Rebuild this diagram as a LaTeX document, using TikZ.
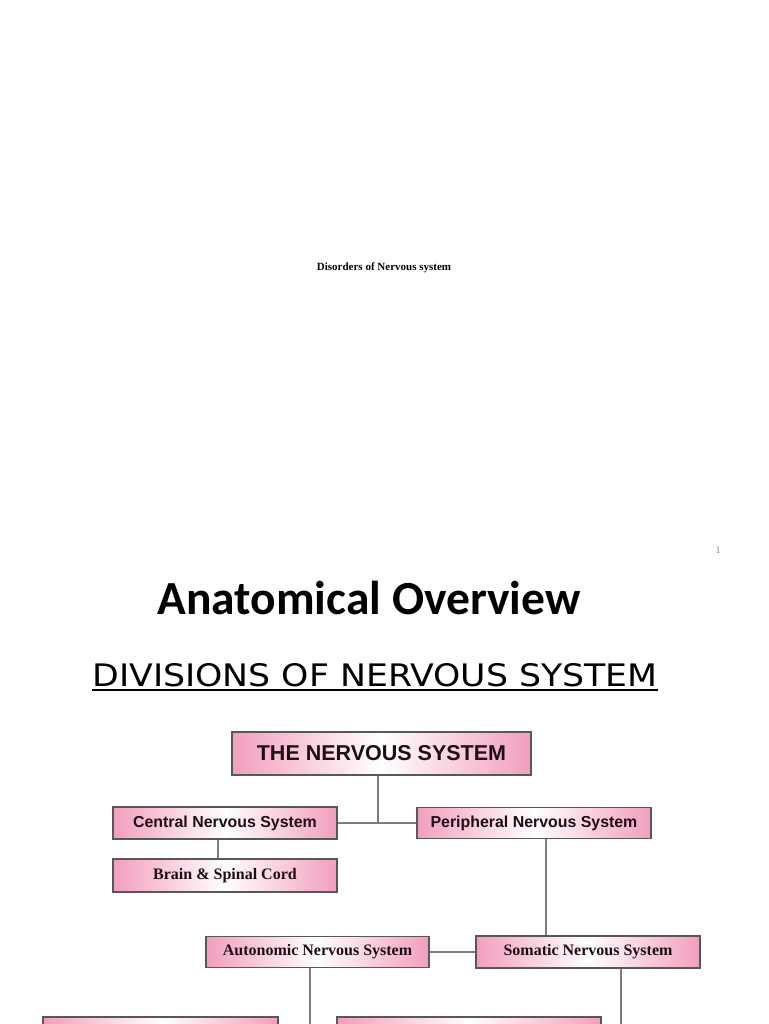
\documentclass[tikz,border=0pt]{standalone}
\usepackage{fontspec}
\setmainfont{Liberation Serif}
\newfontfamily\arialfont{Liberation Sans}
\newfontfamily\calibrifont{Carlito}
\newfontfamily\comicfont{DejaVu Sans}
\definecolor{boxpink}{RGB}{242,158,190}
\definecolor{linegray}{RGB}{125,125,125}
\definecolor{boxtext}{RGB}{32,12,20}

\begin{document}
\begin{tikzpicture}[x=1pt, y=-1pt,
    divbox/.style={draw=linegray!70!black, line width=1.2pt, left color=boxpink, right color=boxpink, middle color=white, text=boxtext, inner sep=0pt},
    sansbox/.style={divbox, font=\arialfont\bfseries\fontsize{15.9}{18}\selectfont},
    serifbox/.style={divbox, font=\bfseries\fontsize{16}{18}\selectfont},
    link/.style={draw=linegray, line width=1.3pt}]
    \fill[white] (0,0) rectangle (768,1024);
    \path[use as bounding box] (0,0) rectangle (768,1024);
    \clip (0,0) rectangle (768,1024);

    \node[anchor=base, font=\bfseries\fontsize{11}{13}\selectfont] (header) at (384,270) {Disorders of Nervous system};
    \node[anchor=base, text=gray, font=\fontsize{10}{12}\selectfont] (pagenum) at (718,553) {1};
    \node[anchor=base, font=\calibrifont\bfseries\fontsize{47.5}{52}\selectfont] (anat) at (369,614) {Anatomical Overview};
    \node[anchor=base, inner sep=0pt, font=\comicfont\fontsize{31}{34}\selectfont] (divisions) at (375,686) {\scalebox{1.12}[1]{DIVISIONS OF NERVOUS SYSTEM}};
    \draw[line width=2.4pt] ([yshift=-4pt]divisions.base west) -- ([yshift=-4pt]divisions.base east);

    \node[sansbox, minimum width=299, minimum height=43, font=\arialfont\bfseries\fontsize{21.5}{24}\selectfont] (nervous) at (381.5,753.5) {THE NERVOUS SYSTEM};
    \node[sansbox, minimum width=224, minimum height=32] (cns) at (225,823) {Central Nervous System};
    \node[sansbox, minimum width=234, minimum height=31] (pns) at (534,823) {Peripheral Nervous System};
    \node[serifbox, minimum width=224, minimum height=33] (brain) at (225,875.5) {Brain \& Spinal Cord};
    \node[serifbox, minimum width=223, minimum height=31] (ans) at (317.5,952) {Autonomic Nervous System};
    \node[serifbox, minimum width=224, minimum height=32] (sns) at (588,952) {Somatic Nervous System};
    \node[divbox, minimum width=235, minimum height=32] (ansleft) at (160.5,1033) {};
    \node[divbox, minimum width=264, minimum height=32] (ansright) at (469,1033) {};
    \coordinate (ansend) at (310,1040);
    \coordinate (snsend) at (621,1040);

    \draw[link] (cns.east) -- (pns.west)
        ([xshift=-3.5pt]nervous.south) -- ([xshift=-3.5pt]nervous.south |- cns.east)
        ([xshift=-7pt]cns.south) -- ([xshift=-7pt]brain.north)
        ([xshift=12pt]pns.south) -- ([xshift=12pt]pns.south |- sns.north)
        (ans.east) -- (sns.west)
        ([xshift=-7.5pt]ans.south) -- (ansend)
        ([xshift=33pt]sns.south) -- (snsend);
\end{tikzpicture}
\end{document}
